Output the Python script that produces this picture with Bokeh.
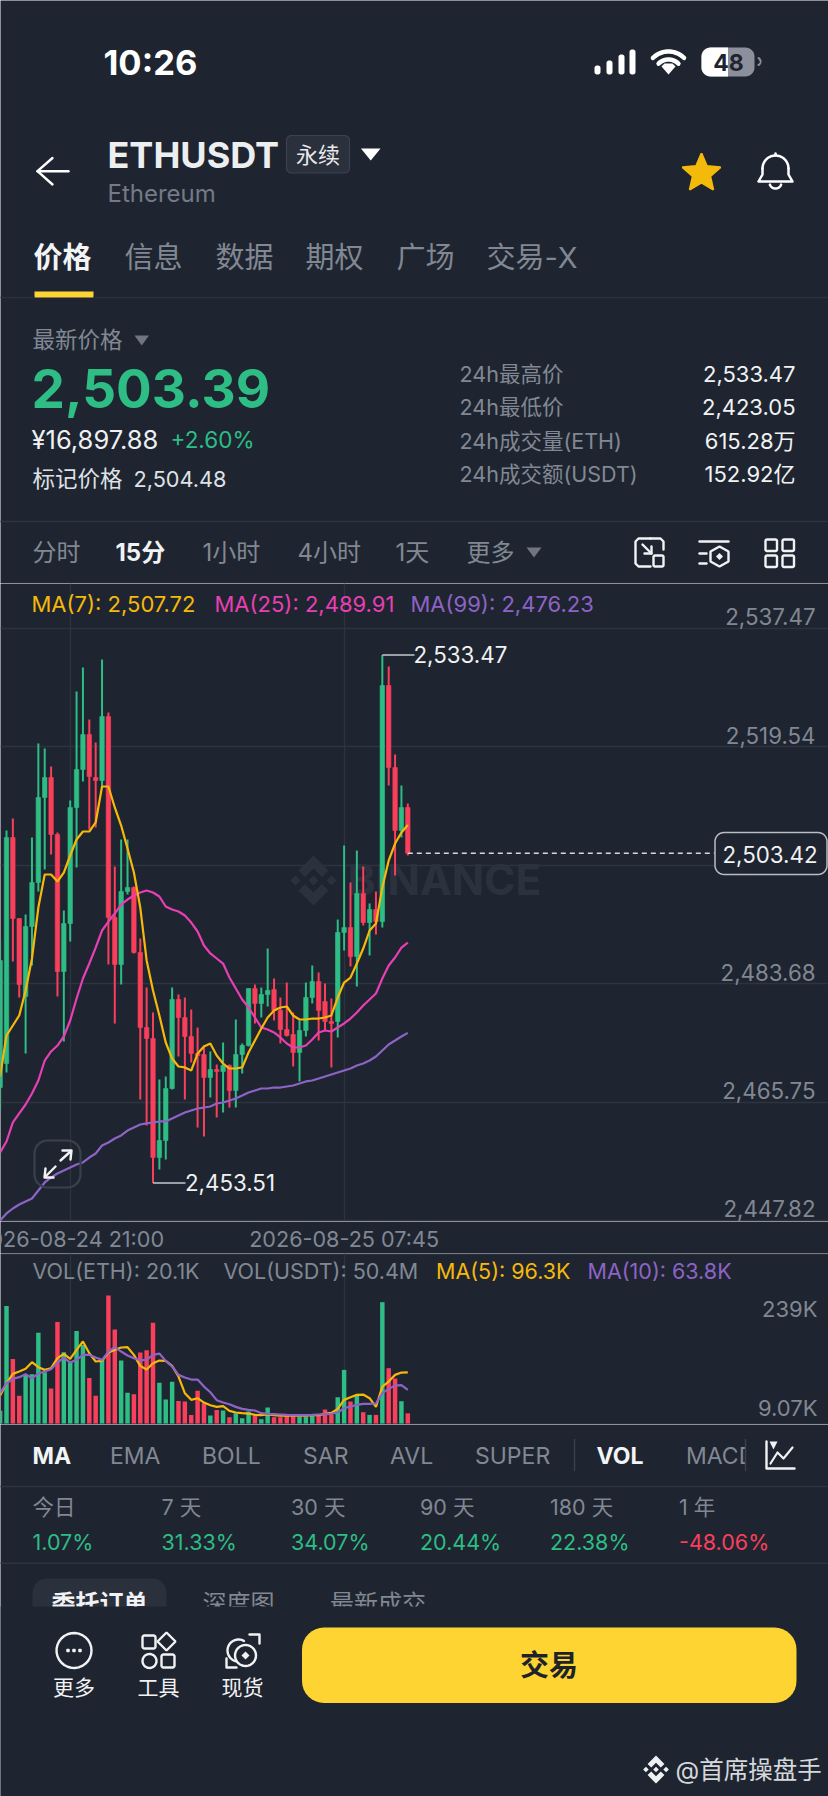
import math
import numpy as np
from bokeh.core.properties import value
from bokeh.embed import file_html
from bokeh.layouts import column
from bokeh.models import ColumnDataSource, FixedTicker, Grid, LinearAxis, NumeralTickFormatter, Range1d, Span
from bokeh.plotting import figure
from bokeh.resources import INLINE

# ---------- data ----------
idx = list(range(-1, 64))
opens = [2467.95,2471.59,2505.82,2493.54,2481.74,2492.33,2499.00,2511.87,2514.90,2506.27,2485.52,2492.79,2510.36,2516.11,2521.41,2514.90,2514.45,2524.14,2493.70,2486.58,2497.64,2498.24,2488.40,2477.04,2475.38,2457.35,2459.93,2467.80,2481.28,2478.56,2475.68,2473.10,2472.95,2469.48,2470.68,2470.38,2471.29,2467.50,2472.95,2474.31,2482.95,2480.67,2482.04,2482.80,2479.62,2476.74,2475.98,2473.26,2476.59,2481.58,2484.00,2480.98,2477.95,2477.95,2491.43,2492.18,2487.79,2497.33,2492.94,2494.91,2493.09,2528.83,2516.41,2506.88,2510.36]
highs = [2490.20,2506.88,2508.69,2493.60,2494.15,2505.82,2520.05,2519.29,2516.56,2506.57,2494.76,2511.42,2527.92,2531.56,2523.68,2520.20,2532.77,2524.75,2501.42,2505.51,2505.51,2498.39,2490.52,2483.10,2479.31,2469.18,2469.63,2483.10,2482.04,2481.58,2479.77,2477.04,2474.31,2473.41,2471.44,2474.77,2471.44,2478.25,2474.62,2482.95,2483.55,2483.10,2489.00,2484.46,2481.58,2483.85,2479.31,2478.10,2483.85,2486.43,2485.37,2483.70,2481.43,2493.39,2504.60,2499.00,2503.84,2501.42,2495.82,2497.64,2533.47,2531.71,2518.38,2513.69,2510.96]
lows = [2464.60,2470.23,2487.04,2481.58,2473.10,2486.43,2497.64,2500.97,2503.24,2481.74,2474.92,2490.06,2501.27,2514.29,2507.03,2507.33,2513.39,2486.58,2477.65,2483.55,2497.18,2488.25,2466.14,2462.21,2453.51,2455.53,2457.05,2467.65,2472.65,2466.14,2471.74,2461.90,2460.53,2466.44,2463.41,2464.17,2464.92,2464.92,2470.07,2474.16,2477.65,2478.56,2480.22,2478.10,2474.62,2475.68,2471.14,2468.87,2475.68,2480.67,2475.07,2476.59,2470.99,2475.53,2488.70,2486.28,2483.25,2492.49,2487.95,2491.12,2492.18,2513.69,2500.06,2505.82,2503.09]
closes = [2487.19,2505.82,2493.54,2483.55,2492.33,2499.00,2511.87,2514.90,2506.27,2485.52,2492.79,2510.36,2516.11,2521.41,2515.05,2514.45,2524.14,2493.70,2486.58,2497.64,2498.24,2488.40,2477.04,2475.38,2457.35,2459.93,2467.80,2481.28,2478.56,2475.68,2473.10,2472.80,2469.48,2470.68,2470.38,2471.29,2467.50,2472.95,2474.31,2482.95,2480.67,2482.04,2482.65,2479.62,2476.74,2475.83,2473.26,2476.59,2481.58,2484.00,2479.62,2477.95,2477.65,2491.43,2492.18,2487.79,2497.33,2492.94,2494.91,2493.09,2528.83,2516.41,2506.88,2510.36,2503.42]
ma7 = [2469.63,2475.83,2477.34,2478.86,2482.65,2487.49,2495.21,2500.21,2500.21,2499.15,2500.51,2503.09,2505.51,2506.72,2506.72,2508.09,2513.54,2513.54,2510.36,2507.63,2504.15,2500.51,2495.21,2487.19,2482.65,2478.86,2474.77,2472.35,2471.14,2470.99,2470.53,2473.10,2474.16,2474.62,2472.80,2471.59,2470.83,2470.83,2470.99,2473.26,2475.07,2476.89,2478.56,2479.62,2480.07,2480.22,2478.86,2478.25,2478.25,2478.40,2478.40,2478.56,2478.86,2481.58,2483.85,2484.61,2486.73,2489.00,2491.73,2492.79,2498.24,2502.33,2504.90,2506.57,2507.72]
ma25 = [2458.11,2459.78,2462.66,2464.02,2465.38,2467.05,2469.02,2472.04,2473.41,2474.31,2475.68,2478.10,2481.43,2484.46,2486.73,2489.15,2491.73,2493.09,2494.30,2495.67,2496.42,2497.03,2497.49,2497.79,2497.49,2496.88,2495.36,2494.91,2494.61,2494.00,2492.94,2491.58,2489.46,2488.25,2487.49,2486.73,2484.61,2482.95,2481.28,2480.07,2478.56,2477.04,2476.74,2476.29,2475.53,2474.62,2474.01,2474.01,2474.31,2475.22,2476.29,2476.59,2476.44,2477.04,2477.65,2478.40,2479.31,2480.37,2481.28,2482.19,2484.46,2486.43,2487.64,2489.15,2489.91]
ma99 = [2447.82,2448.88,2449.63,2450.24,2450.69,2451.15,2452.36,2453.57,2454.33,2454.93,2455.39,2455.84,2456.30,2456.60,2457.35,2457.96,2459.17,2459.63,2460.23,2460.69,2461.44,2461.90,2462.35,2462.51,2462.66,2462.81,2462.81,2463.26,2463.72,2464.17,2464.47,2464.77,2464.92,2465.08,2465.53,2465.68,2465.99,2466.29,2466.74,2467.20,2467.50,2467.80,2467.80,2467.95,2467.95,2468.11,2468.26,2468.56,2468.87,2469.02,2469.32,2469.63,2469.93,2470.23,2470.53,2470.83,2471.29,2471.59,2472.04,2472.65,2473.56,2474.47,2475.07,2475.68,2476.23]
volumes = [24.8,219.7,121.3,52.6,91.6,92.9,169.6,96.6,66.2,190.0,133.7,115.1,173.3,147.3,86.0,52.6,119.5,239.0,175.8,118.2,58.2,55.7,133.1,137.4,188.2,76.8,45.8,78.6,43.3,42.1,17.3,61.9,39.0,16.1,26.6,25.4,13.0,20.4,11.1,23.5,16.1,9.3,31.0,13.0,13.0,16.1,17.3,14.2,14.2,17.3,16.1,27.2,17.3,50.1,100.9,42.1,53.2,22.3,17.3,17.3,226.6,104.0,84.8,42.7,20.1]
vol_ma5 = [53.2,76.1,93.5,97.8,102.8,115.1,105.8,100.9,104.0,122.6,130.6,121.3,138.0,153.5,131.8,116.4,117.6,133.1,138.0,142.4,143.0,128.8,108.3,101.5,113.3,118.2,117.6,108.3,88.5,57.6,45.2,48.3,40.2,35.3,32.2,33.4,24.8,21.7,20.4,19.8,17.3,16.7,18.0,16.7,16.1,16.1,16.1,16.1,16.1,16.7,16.7,19.2,21.0,28.5,45.2,50.1,54.5,55.1,48.3,32.2,69.9,79.2,91.6,95.9,96.3]
vol_ma10 = [57.6,76.1,84.2,87.3,92.9,85.4,94.1,97.8,102.1,114.5,123.8,114.5,119.5,128.8,128.8,123.8,119.5,134.9,143.0,134.9,127.5,122.6,118.8,119.5,128.8,131.2,117.6,107.1,91.6,86.7,82.9,82.9,69.9,59.4,44.6,40.2,37.1,32.2,28.5,26.6,25.4,20.4,19.2,18.6,18.0,17.3,16.7,16.7,16.7,17.3,18.0,18.6,19.2,21.7,29.7,32.8,35.9,37.8,37.8,38.4,57.6,65.6,71.8,72.4,63.8]
price_ticks = [2537.47, 2519.54, 2501.61, 2483.68, 2465.75, 2447.82]
time_ticks = {10: "2026-08-24 21:00", 53: "2026-08-25 07:45"}
last_price = 2503.42
vol_labels = [(239.0, "239K", 14), (9.07, "9.07K", -11)]
assert all(len(a) == 65 for a in (opens, highs, lows, closes, ma7, ma25, ma99, volumes, vol_ma5, vol_ma10))

# ---------- styling ----------
BG = "#1e2530"
GREEN, RED = "#2dbd85", "#f93f5b"
C7, C25, C99 = "#f6b80b", "#e83fb4", "#8e63c6"
GRID = "#2d333f"
GRAY, WHITE = "#828893", "#eef0f2"
YEL = "#fdd431"
FONT = "Inter, 'Noto Sans CJK SC'"
SX, DX = 6.37, 6.0
fxc = lambda px: (np.asarray(px, float) - DX) / SX
fyp = lambda py: 2632.57 - 0.15144 * np.asarray(py, float)


class Ui:
    def __init__(s, p, fx=lambda v: v, fy=lambda v: v, dx=0):
        s.p, s.fx, s.fy, s.dx = p, fx, fy, dx

    def t(s, x, y, txt, size, color=WHITE, align="left", bold=False, **kw):
        s.p.text(x=[float(s.fx(x + (s.dx if align == "left" else 0)))], y=[float(s.fy(y))], text=[txt], text_font=value(FONT),
                 text_font_size=f"{size}px", text_color=color, text_align=align, text_baseline="middle",
                 text_font_style="bold" if bold else "normal", **kw)

    def poly(s, pts, fill=None, line=None, lw=2, **kw):
        xs = [float(s.fx(a)) for a, _ in pts]
        ys = [float(s.fy(b)) for _, b in pts]
        s.p.patch(xs, ys, fill_color=fill, fill_alpha=1 if fill else 0, line_color=line, line_width=lw, line_alpha=1 if line else 0, **kw)

    def line(s, pts, color=WHITE, lw=2.4, **kw):
        s.p.line([float(s.fx(a)) for a, _ in pts], [float(s.fy(b)) for _, b in pts], line_color=color, line_width=lw, line_cap="round", line_join="round", **kw)

    def box(s, x0, y0, x1, y1, r=0, tl=True, tr=True, br=True, bl=True, **kw):
        pts = []
        for cx, cy, a0, on in ((x1 - r, y0 + r, -90, tr), (x1 - r, y1 - r, 0, br), (x0 + r, y1 - r, 90, bl), (x0 + r, y0 + r, 180, tl)):
            if on and r:
                for a in np.linspace(a0, a0 + 90, 9):
                    pts.append((cx + r * math.cos(math.radians(a)), cy + r * math.sin(math.radians(a))))
            else:
                pts.append(((x1 if cx > (x0 + x1) / 2 else x0), (y1 if cy > (y0 + y1) / 2 else y0)))
        s.poly(pts, **kw)

    def arc(s, cx, cy, r, a0, a1, color=WHITE, lw=2.4, **kw):
        s.line([(cx + r * math.cos(math.radians(a)), cy + r * math.sin(math.radians(a))) for a in np.linspace(a0, a1, 30)], color, lw, **kw)

    def diamond(s, cx, cy, r, **kw):
        s.poly([(cx, cy - r), (cx + r, cy), (cx, cy + r), (cx - r, cy)], **kw)

    def tri(s, x0, x1, y0, y1, fill):
        s.poly([(x0, y0), (x1, y0), ((x0 + x1) / 2, y1)], fill=fill)

    def logo(s, cx, cy, R, fill, **kw):
        for dx in (0, -0.72, 0.72):
            s.diamond(cx + dx * R, cy, 0.2 * R, fill=fill, **kw)
        for sgn in (1, -1):
            ch = [(0, -1), (.6, -.4), (.34, -.14), (0, -.48), (-.34, -.14), (-.6, -.4)]
            s.poly([(cx + a * R, cy + sgn * b * R) for a, b in ch], fill=fill, **kw)


def ui_fig(y0, y1):
    p = figure(width=828, height=y1 - y0, x_range=Range1d(0, 828), y_range=Range1d(y1, y0), toolbar_location=None,
               output_backend="svg", min_border=0, background_fill_color=BG, border_fill_color=BG, outline_line_color=None,
               x_axis_location=None, y_axis_location=None)
    p.grid.visible = False
    return p


# ---------- header ----------
hd = ui_fig(0, 583)
u = Ui(hd, dx=-1)
u.t(104, 62, "10:26", 34.5, "#ffffff", bold=True)
for x0, top in ((594, 65), (606, 60), (618, 54), (629, 49)):
    u.box(x0, top, x0 + 6, 74, 2.5, fill="#ffffff")
for r, lw in ((22, 4.5), (14, 4.5)):
    u.arc(668, 73, r, -135, -45, "#ffffff", lw)
u.poly([(668, 74), (661, 66), (664, 63), (672, 63), (675, 66)], fill="#ffffff")
u.box(701, 47, 754, 76, 9, fill="#8b909b")
u.box(701, 47, 727.5, 76, 9, tr=False, br=False, fill="#ffffff")
u.arc(756, 61, 4, -60, 60, "#8b909b", 2)
u.t(728, 62, "48", 23, "#1e2530", "center", bold=True)

u.line([(37, 170.7), (68, 170.7)], "#ffffff")
u.line([(52, 157.5), (37, 170.7), (52, 184)], "#ffffff")
u.t(108, 154, "ETHUSDT", 36, "#eceef0", bold=True)
u.box(286, 135, 349, 172.5, 5, fill="#2a303c", line="#3b4250", lw=1.2)
u.t(317.5, 154, "永续", 22, "#e8e8ea", "center")
u.tri(360.5, 380, 148, 160, "#ffffff")
u.t(108, 193, "Ethereum", 24, "#747a86")
star = []
for k in range(10):
    rr_ = 20 if k % 2 == 0 else 9.2
    a = math.radians(-90 + 36 * k)
    star.append((701 + rr_ * math.cos(a), 173 + rr_ * math.sin(a)))
u.poly(star, fill="#f3ba0b", line="#f3ba0b", lw=2)
u.arc(775, 168, 13, 180, 360, "#ffffff", 2.5)
u.line([(762, 168), (762, 174), (758, 181), (792, 181), (788, 174), (788, 168)], "#ffffff", 2.5)
u.arc(775, 182, 6, 20, 160, "#ffffff", 2.5)
u.line([(775, 153), (775, 155)], "#ffffff", 2.5)

for x, s_, c, b in ((34, "价格", "#f3f4f5", True), (125, "信息", GRAY, False), (216, "数据", GRAY, False), (306, "期权", GRAY, False), (397, "广场", GRAY, False), (487, "交易-X", GRAY, False)):
    u.t(x, 256.5, s_, 29, c, bold=b)
u.box(34, 291, 93, 297, fill="#fcd535")
u.line([(93, 297), (828, 297)], "#2b303c", 1.4)
u.line([(0, 297), (34, 297)], "#2b303c", 1.4)

u.t(33, 339, "最新价格", 22.5, GRAY)
u.tri(134, 148.5, 335, 345, "#70757f")
u.t(32, 388, "2,503.39", 53, GREEN, bold=True)
u.t(32, 438.5, "¥16,897.88", 25.5, "#eef0f2")
u.t(171, 438.5, "+2.60%", 22.5, GREEN)
u.t(33, 478, "标记价格", 22.5, "#dfe1e5")
u.t(134, 478.5, "2,504.48", 21.7, "#dfe1e5")
for y, a, b in ((373, "24h最高价", "2,533.47"), (406.5, "24h最低价", "2,423.05"), (440.5, "24h成交量(ETH)", "615.28万"), (473.5, "24h成交额(USDT)", "152.92亿")):
    u.t(460, y, a, 21.5, GRAY)
    u.t(795, y, b, 22, "#f1f2f3", "right")
u.line([(0, 521), (828, 521)], "#2d333f", 1.4)
for x, s_, c, b in ((33, "分时", GRAY, False), (116, "15分", "#f1f2f3", True), (203, "1小时", GRAY, False), (298, "4小时", GRAY, False), (396, "1天", GRAY, False), (467, "更多", GRAY, False)):
    u.t(x, 551.5, s_, 24, c, bold=b)
u.tri(526, 541, 547, 557, "#70757f")
# view icons
u.line([(650, 538), (638, 538), (635, 541), (635, 563), (638, 566), (650, 566)], "#f1f2f3", 2.4)
u.line([(650, 538), (660, 538), (663, 541), (663, 549)], "#f1f2f3", 2.4)
u.line([(642, 544), (651, 553)], "#f1f2f3", 2.4)
u.line([(651, 546), (651, 553), (644, 553)], "#f1f2f3", 2.4)
u.box(653, 555, 663, 566, 1.5, line="#f1f2f3", lw=2.4)
u.line([(699, 541), (728, 541)], "#f1f2f3", 2.4)
u.line([(699, 553), (706, 553)], "#f1f2f3", 2.4)
u.line([(699, 563), (706, 563)], "#f1f2f3", 2.4)
u.poly([(719, 546), (728, 551), (728, 561), (719, 566), (710, 561), (710, 551)], line="#f1f2f3", lw=2.4)
u.diamond(719, 556, 3.5, fill="#f1f2f3")
for x0, y0 in ((765, 539), (782, 539), (765, 555), (782, 555)):
    u.box(x0, y0, x0 + 11.5, y0 + 11.5, 1.5, line="#f1f2f3", lw=2.4)
u.line([(0, 583), (828, 583)], "#2d333f", 1.4)

# ---------- price panel ----------
y_lo, y_hi = float(fyp(1221)), float(fyp(583))
pr = figure(width=828, height=638, x_range=Range1d(float(fxc(0)), float(fxc(828))), y_range=Range1d(y_lo, y_hi),
            toolbar_location=None, output_backend="svg", min_border=0, background_fill_color=BG,
            border_fill_color=BG, outline_line_color=None, x_axis_location=None, y_axis_location=None)
pr.grid.visible = False
pr.add_layout(Grid(dimension=1, ticker=FixedTicker(ticks=price_ticks), grid_line_color=GRID, grid_line_width=1.4))
pr.add_layout(Grid(dimension=0, ticker=FixedTicker(ticks=list(time_ticks)), grid_line_color=GRID, grid_line_width=1.4))
# tick labels sit just above their grid lines: same scale, shifted by 11.6 px
LABEL_SHIFT = 11.6 * 0.15144
pr.extra_y_ranges["tick_labels"] = Range1d(y_lo - LABEL_SHIFT, y_hi - LABEL_SHIFT)
ya = LinearAxis(y_range_name="tick_labels", ticker=FixedTicker(ticks=price_ticks), formatter=NumeralTickFormatter(format="0,0.00"),
                fixed_location=float(fxc(821)), axis_line_color=None, major_tick_line_color=None, minor_tick_line_color=None,
                major_label_standoff=0, major_label_text_font=FONT, major_label_text_font_size="22.3px", major_label_text_color=GRAY)
pr.add_layout(ya, "left")

v = Ui(pr, fxc, fyp)
v.logo(313, 880, 25, "#2b323e")
v.t(347, 879, "BINANCE", 42.5, "#2b323e", bold=True)

colors = [GREEN if c >= o else RED for o, c in zip(opens, closes)]
src = ColumnDataSource(dict(x=idx, o=opens, h=highs, l=lows, c=closes, color=colors, m7=ma7, m25=ma25, m99=ma99,
                            v=volumes, v5=vol_ma5, v10=vol_ma10))
pr.segment(x0="x", x1="x", y0="l", y1="h", line_color="color", line_width=2, source=src)
pr.vbar(x="x", width=0.7, top="o", bottom="c", fill_color="color", line_color="color", line_width=0.6, source=src)
pr.line("x", "m99", line_color=C99, line_width=2.2, source=src)
pr.line("x", "m25", line_color=C25, line_width=2.2, source=src)
pr.line("x", "m7", line_color=C7, line_width=2.2, source=src)

# high / low leaders
hi = int(np.argmax(highs))
lo = int(np.argmin(lows))
pr.segment(x0=[idx[hi], idx[lo]], x1=[float(fxc(414)), float(fxc(185))], y0=[highs[hi], lows[lo]], y1=[highs[hi], lows[lo]], line_color="#c4c7cc", line_width=1.5)
pr.text(x=[float(fxc(413)), float(fxc(184.5))], y=[highs[hi], lows[lo]], text=[f"{highs[hi]:,.2f}", f"{lows[lo]:,.2f}"],
        text_font=value(FONT), text_font_size="22.3px", text_color="#f1f2f3", text_baseline="middle")
# last price
pr.segment(x0=[idx[-1]], x1=[float(fxc(714))], y0=[last_price], y1=[last_price], line_color="#d5d8dc", line_width=1.4, line_dash="5 4")
v.box(714.5, 832, 826.5, 874, 9, fill=BG, line="#b9bdc4", lw=1.5, level="overlay")
pr.text(x=[float(fxc(817))], y=[float(fyp(853.5))], text=[f"{last_price:,.2f}"], text_font=value(FONT), text_font_size="22.3px",
        text_color="#f1f2f3", text_align="right", text_baseline="middle", level="overlay")
# legend
for x, s_, c in ((31, f"MA(7): {ma7[-1]:,.2f}", C7), (214, f"MA(25): {ma25[-1]:,.2f}", C25), (410, f"MA(99): {ma99[-1]:,.2f}", C99)):
    v.t(x, 603, s_, 22, c)
# expand button
v.box(34, 1140, 80, 1187, 13, line="#3a404c", lw=2.2)
v.line([(45, 1176), (55, 1166)], "#f1f2f3", 2.4)
v.line([(45, 1168), (44, 1177), (53, 1177)], "#f1f2f3", 2.4)
v.line([(60, 1160), (70, 1151)], "#f1f2f3", 2.4)
v.line([(62, 1150), (71, 1150), (70, 1159)], "#f1f2f3", 2.4)

# ---------- time labels strip ----------
ts = figure(width=828, height=32, x_range=pr.x_range, y_range=Range1d(0, 32), toolbar_location=None, output_backend="svg",
            min_border=0, background_fill_color=BG, border_fill_color=BG, outline_line_color=None, x_axis_location=None, y_axis_location=None)
ts.grid.visible = False
ts.text(x=list(time_ticks), y=[15, 15], text=list(time_ticks.values()), text_font=value(FONT), text_font_size="21.6px", text_color=GRAY,
        text_align="center", text_baseline="middle")

# ---------- volume panel ----------
VPX = 1.857
vt = 170.7 * VPX
vo = figure(width=828, height=171, x_range=pr.x_range, y_range=Range1d(-0.3 * VPX, vt), toolbar_location=None, output_backend="svg",
            min_border=0, background_fill_color=BG, border_fill_color=BG, outline_line_color=None, x_axis_location=None, y_axis_location=None)
vo.grid.visible = False
vo.add_layout(Grid(dimension=0, ticker=FixedTicker(ticks=list(time_ticks)), grid_line_color=GRID, grid_line_width=1.4))
vo.add_layout(Span(location=vt - 0.6 * VPX, dimension="width", line_color=GRID, line_width=1.4))
vo.add_layout(Span(location=0, dimension="width", line_color=GRID, line_width=1.4))
vo.vbar(x="x", width=0.7, top="v", bottom=0, fill_color="color", line_color=None, source=src)
vo.line("x", "v5", line_color=C7, line_width=2.2, source=src)
vo.line("x", "v10", line_color=C99, line_width=2.2, source=src)
for val, lab, off in vol_labels:
    vo.text(x=[float(fxc(817))], y=[val], text=[lab], text_font=value(FONT), text_font_size="22px", text_color=GRAY,
            text_align="right", text_baseline="middle", y_offset=off)
fyv = lambda py: (1422.7 - py) * VPX
w = Ui(vo, fxc, fyv)
w.t(32, 1269.5, f"VOL(ETH): {volumes[-1]:.1f}K", 21.5, GRAY)
w.t(223, 1269.5, "VOL(USDT): 50.4M", 21.5, GRAY)
w.t(435.5, 1269.5, f"MA(5): {vol_ma5[-1]:.1f}K", 21.5, C7)
w.t(587, 1269.5, f"MA(10): {vol_ma10[-1]:.1f}K", 21.5, C99)

# ---------- footer ----------
ft = ui_fig(1424, 1796)
f = Ui(ft)
for x, s_, c, b in ((32, "MA", "#f3f4f5", True), (109.5, "EMA", GRAY, False), (201.5, "BOLL", GRAY, False), (302.5, "SAR", GRAY, False), (389.5, "AVL", GRAY, False), (474.5, "SUPER", GRAY, False), (596, "VOL", "#f3f4f5", True), (685.5, "MACD", GRAY, False)):
    f.t(x, 1455, s_, 23, c, bold=b)
f.box(745, 1430, 828, 1480, fill=BG)
f.line([(574, 1439), (574, 1470)], "#3a404c", 1.4)
f.line([(745, 1439), (745, 1470)], "#3a404c", 1.4)
f.line([(766, 1441), (766, 1468), (794, 1468)], "#f1f2f3", 2.4)
f.tri(769, 777, 1441, 1449, "#f1f2f3")
f.line([(770, 1463), (777, 1452), (783, 1458), (792, 1447)], "#f1f2f3", 2.2)
f.line([(0, 1486), (828, 1486)], "#2d333f", 1.4)
for x, a, b, c in ((32, "今日", "1.07%", GREEN), (161, "7 天", "31.33%", GREEN), (290.5, "30 天", "34.07%", GREEN), (419.5, "90 天", "20.44%", GREEN), (549.5, "180 天", "22.38%", GREEN), (678.5, "1 年", "-48.06%", RED)):
    f.t(x, 1506, a, 21.5, GRAY)
    f.t(x, 1541, b, 21.5, c)
f.line([(0, 1562.7), (828, 1562.7)], "#2d333f", 1.4)
f.box(32, 1578, 166, 1620, 14, fill="#2a303c")
f.t(99, 1603, "委托订单", 24, "#f1f2f3", "center", bold=True)
f.t(238, 1603, "深度图", 24, GRAY, "center")
f.t(377.5, 1603, "最新成交", 24, GRAY, "center")
f.box(0, 1606, 828, 1796, fill=BG)
f.arc(73.5, 1650, 17.5, 0, 360, "#f1f2f3", 2.4)
for dx in (-6, 0, 6):
    f.box(73.5 + dx - 1.8, 1648.2, 73.5 + dx + 1.8, 1651.8, 1.2, fill="#f1f2f3")
f.t(73.5, 1687, "更多", 21, "#f1f2f3", "center")
f.box(142, 1635, 155, 1648, 2, line="#f1f2f3", lw=2.4)
f.diamond(166, 1641, 9, line="#f1f2f3", lw=2.4)
f.arc(149, 1660.5, 7, 0, 360, "#f1f2f3", 2.4)
f.box(161, 1654, 174, 1667, 2, line="#f1f2f3", lw=2.4)
f.t(158, 1687, "工具", 21, "#f1f2f3", "center")
f.line([(249, 1634), (259, 1634), (259, 1643)], "#f1f2f3", 2.4)
f.line([(226, 1658), (226, 1667), (236, 1667)], "#f1f2f3", 2.4)
f.arc(238, 1650, 11, 100, 300, "#f1f2f3", 2.4)
f.arc(245, 1655, 10.5, 0, 360, "#f1f2f3", 2.4)
f.diamond(245, 1655, 4, fill="#f1f2f3")
f.t(242, 1687, "现货", 21, "#f1f2f3", "center")
f.box(301.5, 1627, 796, 1702.5, 22, fill=YEL)
f.t(548.5, 1665, "交易", 29, "#1e2329", "center", bold=True)
f.logo(655.5, 1769, 14, "#eef0f2")
f.t(675, 1769, "@首席操盘手", 24.5, "#d5d8dc")

page = column(hd, pr, ts, vo, ft, spacing=0)
open("out.html", "w").write(file_html(page, INLINE))
